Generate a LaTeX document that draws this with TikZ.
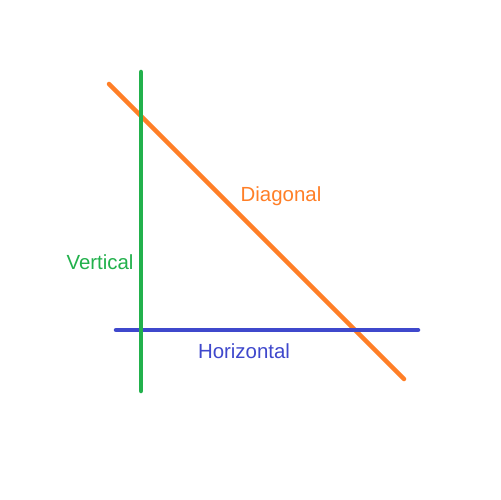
\documentclass[tikz,border=0pt]{standalone}
\usepackage{fontspec}
\setmainfont{Liberation Sans}
\definecolor{pgreen}{HTML}{22B14C}
\definecolor{porange}{HTML}{FF7F27}
\definecolor{pblue}{HTML}{3F48CC}
\begin{document}
\begin{tikzpicture}[x=1bp,y=-1bp,
  seg/.style={line width=4.5bp,line cap=round},
  lbl/.style={font=\fontsize{20.5}{24}\selectfont,inner sep=0pt}]
\useasboundingbox (0,0) rectangle (500,500);
\fill[white] (0,0) rectangle (500,500);
\coordinate (d1) at (109,84);
\coordinate (d2) at (404,379);
\coordinate (h1) at (116,330);
\coordinate (h2) at (418,330);
\coordinate (v1) at (141,72);
\coordinate (v2) at (141,391);
\draw[seg,porange] (d1) -- (d2);
\draw[seg,pblue] (h1) -- (h2);
\draw[seg,pgreen] (v1) -- (v2);
\node[lbl,text=porange] (dl) at (281,196) {Diagonal};
\node[lbl,text=pgreen] (vl) at (100,262) {Vertical};
\node[lbl,text=pblue] (hl) at (244,351) {Horizontal};
\end{tikzpicture}
\end{document}
